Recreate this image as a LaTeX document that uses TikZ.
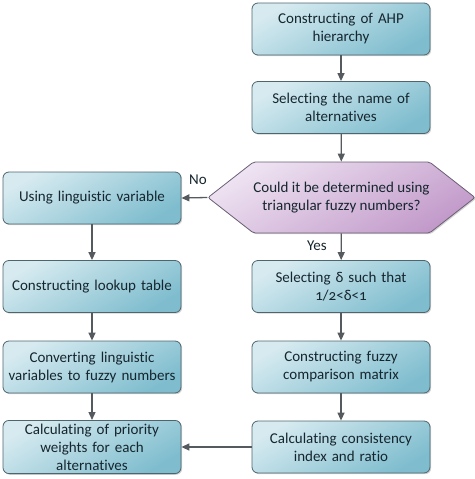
\documentclass[tikz,border=0pt]{standalone}
\usepackage{fontspec}
\setmainfont{Carlito}[Ligatures=CommonOff]
\usetikzlibrary{shapes.symbols,shadows,arrows.meta}
\definecolor{boxtop}{HTML}{D6EAF0}
\definecolor{boxbot}{HTML}{7FBDCE}
\definecolor{boxline}{HTML}{4F656E}
\definecolor{hextop}{HTML}{EEE3F2}
\definecolor{hexbot}{HTML}{C29ACA}
\definecolor{hexline}{HTML}{6A6074}
\definecolor{txt}{HTML}{16262E}
\definecolor{arr}{HTML}{555A5E}
\tikzset{
  stepbox/.style={rectangle, rounded corners=6pt, draw=boxline, line width=0.8pt,
    top color=boxtop, bottom color=boxbot, shading angle=30,
    minimum width=178pt, minimum height=52pt, text width=176pt, align=center, inner xsep=1pt,
    font=\fontsize{15}{18}\selectfont, text=txt,
    drop shadow={shadow xshift=1.2pt, shadow yshift=-1.2pt, opacity=0.35, fill=gray}},
  decbox/.style={shape=signal, signal to=west and east, signal pointer angle=76,
    draw=hexline, line width=0.8pt, rounded corners=2pt,
    top color=hextop, bottom color=hexbot, shading angle=30,
    minimum width=257pt, minimum height=71pt, inner sep=0pt, align=center,
    font=\fontsize{15}{18}\selectfont, text=txt,
    drop shadow={shadow xshift=1.2pt, shadow yshift=-1.2pt, opacity=0.35, fill=gray}},
  conn/.style={draw=arr, line width=1.3pt, -{Triangle[length=8pt,width=7pt]}},
  lbl/.style={font=\fontsize{15}{18}\selectfont, text=txt}
}
\begin{document}
\begin{tikzpicture}[x=1pt,y=-1pt]
\useasboundingbox (0,0) rectangle (474,479);
\node[stepbox] (ahp) at (341,29) {Constructing of AHP\\hierarchy};
\node[stepbox] (sel) at (341,107.5) {Selecting the name of\\alternatives};
\node[decbox] (dec) at (341.5,197.5) {Could it be determined using\\triangular fuzzy numbers?};
\node[stepbox] (delta) at (341,286.5) {Selecting δ such that\\{\addfontfeatures{Numbers=OldStyle}1/2<δ<1}};
\node[stepbox] (fcm) at (341,367) {Constructing fuzzy\\comparison matrix};
\node[stepbox] (cons) at (341,447) {Calculating consistency\\index and ratio};
\node[stepbox] (ling) at (92,198) {Using linguistic variable};
\node[stepbox] (look) at (92,286.5) {Constructing lookup table};
\node[stepbox] (conv) at (92,367) {Converting linguistic\\variables to fuzzy numbers};
\node[stepbox] (prio) at (92,447) {Calculating of priority\\weights for each\\alternatives};
\node[lbl] (no) at (198,180) {No};
\node[lbl] (yes) at (317,246) {Yes};
\draw[conn] (ahp) -- (sel);
\draw[conn] (sel) -- (dec);
\draw[conn] (dec) -- (delta);
\draw[conn] (delta) -- (fcm);
\draw[conn] (fcm) -- (cons);
\draw[conn] (cons) -- (prio);
\draw[conn] (dec.west) -- (ling.east);
\draw[conn] (ling) -- (look);
\draw[conn] (look) -- (conv);
\draw[conn] (conv) -- (prio);
\end{tikzpicture}
\end{document}
